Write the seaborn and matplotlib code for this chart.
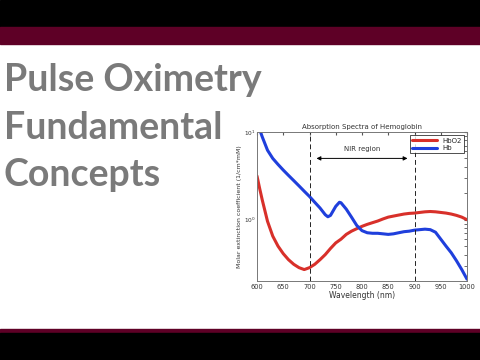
import pandas as pd
import numpy as np
import seaborn as sns
import matplotlib.pyplot as plt
from matplotlib.patches import Rectangle

# absorption spectra
wl_hbo2 = [600, 605, 610, 620, 630, 640, 650, 660, 670, 680, 690, 700, 710, 720, 730, 740,
           750, 760, 770, 780, 790, 800, 810, 820, 830, 840, 850, 860, 870, 880, 890, 900,
           910, 920, 930, 940, 950, 960, 970, 980, 990, 1000]
hbo2 = [3.15, 2.28, 1.68, 0.96, 0.65, 0.50, 0.41, 0.35, 0.31, 0.284, 0.27, 0.284, 0.31, 0.35,
        0.40, 0.47, 0.544, 0.60, 0.68, 0.74, 0.79, 0.84, 0.885, 0.925, 0.966, 1.02, 1.07, 1.10,
        1.13, 1.16, 1.18, 1.19, 1.21, 1.23, 1.24, 1.23, 1.21, 1.19, 1.16, 1.12, 1.07, 1.0]

wl_hb = [600, 610, 620, 630, 640, 650, 660, 670, 680, 690, 700, 710, 720, 730, 735, 740, 750,
         757, 760, 770, 780, 790, 800, 810, 820, 830, 840, 850, 860, 870, 880, 890, 900, 910,
         920, 930, 940, 950, 960, 970, 980, 990, 1000]
hb = [13.0, 8.8, 6.2, 5.0, 4.27, 3.68, 3.2, 2.79, 2.43, 2.11, 1.84, 1.58, 1.36, 1.14, 1.08,
      1.12, 1.42, 1.58, 1.56, 1.32, 1.07, 0.86, 0.75, 0.71, 0.70, 0.70, 0.69, 0.68, 0.69,
      0.71, 0.73, 0.74, 0.76, 0.77, 0.78, 0.77, 0.72, 0.60, 0.50, 0.42, 0.34, 0.27, 0.21]

nir_lines = [700, 900]
title_lines = ["Pulse Oximetry", "Fundamental", "Concepts"]

df = pd.concat([
    pd.DataFrame({"wavelength": wl_hbo2, "coef": hbo2, "species": "HbO2"}),
    pd.DataFrame({"wavelength": wl_hb, "coef": hb, "species": "Hb"}),
])

sns.set_style("white")
fig = plt.figure(figsize=(4.8, 3.6), dpi=100)

# slide bands
fig.patches.append(Rectangle((0, 1 - 27 / 360), 1, 27 / 360, transform=fig.transFigure, color="black", zorder=0))
fig.patches.append(Rectangle((0, 1 - 44 / 360), 1, 17 / 360, transform=fig.transFigure, color="#5e0026", zorder=0))
fig.patches.append(Rectangle((0, 27 / 360), 1, 4 / 360, transform=fig.transFigure, color="#5e0026", zorder=0))
fig.patches.append(Rectangle((0, 0), 1, 27 / 360, transform=fig.transFigure, color="black", zorder=0))

for i, line in enumerate(title_lines):
    fig.text(0.008, 1 - (80 + i * 47.5) / 360, line, fontsize=27, fontweight="bold",
             family="Lato", color="#7a7a7a", va="center", ha="left")

ax = fig.add_axes([257 / 480, 1 - 281 / 360, 210 / 480, 149 / 360])
sns.lineplot(data=df, x="wavelength", y="coef", hue="species", ax=ax,
             palette={"HbO2": "#d8302a", "Hb": "#1f3fdc"}, linewidth=2.2, sort=False)
ax.set_yscale("log")
ax.set_xlim(600, 1000)
ax.set_ylim(0.2, 10)
ax.set_xticks(range(600, 1001, 50))

for x in nir_lines:
    ax.axvline(x, color="#222222", ls=(0, (5, 3)), lw=0.7)
ax.annotate("", xy=(708, 5.0), xytext=(892, 5.0),
            arrowprops=dict(arrowstyle="<|-|>", color="black", lw=0.7, mutation_scale=6))
ax.text(800, 5.9, "NIR region", fontsize=5, ha="center", va="bottom", color="#333333")

ax.set_title("Absorption Spectra of Hemoglobin", fontsize=5, pad=2, color="#333333")
ax.set_xlabel("Wavelength (nm)", fontsize=5.5, labelpad=1, color="#333333")
ax.set_ylabel("Molar extinction coefficient (1/cm*mM)", fontsize=4.5, labelpad=1, color="#333333")
ax.tick_params(axis="both", which="both", direction="in", top=True, right=True,
               labelsize=4.8, length=2, pad=2, colors="#555555", labelcolor="#333333")
ax.tick_params(axis="y", which="major", labelsize=4.2, pad=1)
for s in ax.spines.values():
    s.set_color("#777777")
    s.set_linewidth(0.7)

leg = ax.legend(loc="upper right", fontsize=5, frameon=True, fancybox=False,
                edgecolor="black", handlelength=3.5, borderpad=0.3, labelspacing=0.2)
leg.get_frame().set_linewidth(0.6)
for h in leg.get_lines():
    h.set_linewidth(2.2)

fig.savefig("out.png", dpi=100)
